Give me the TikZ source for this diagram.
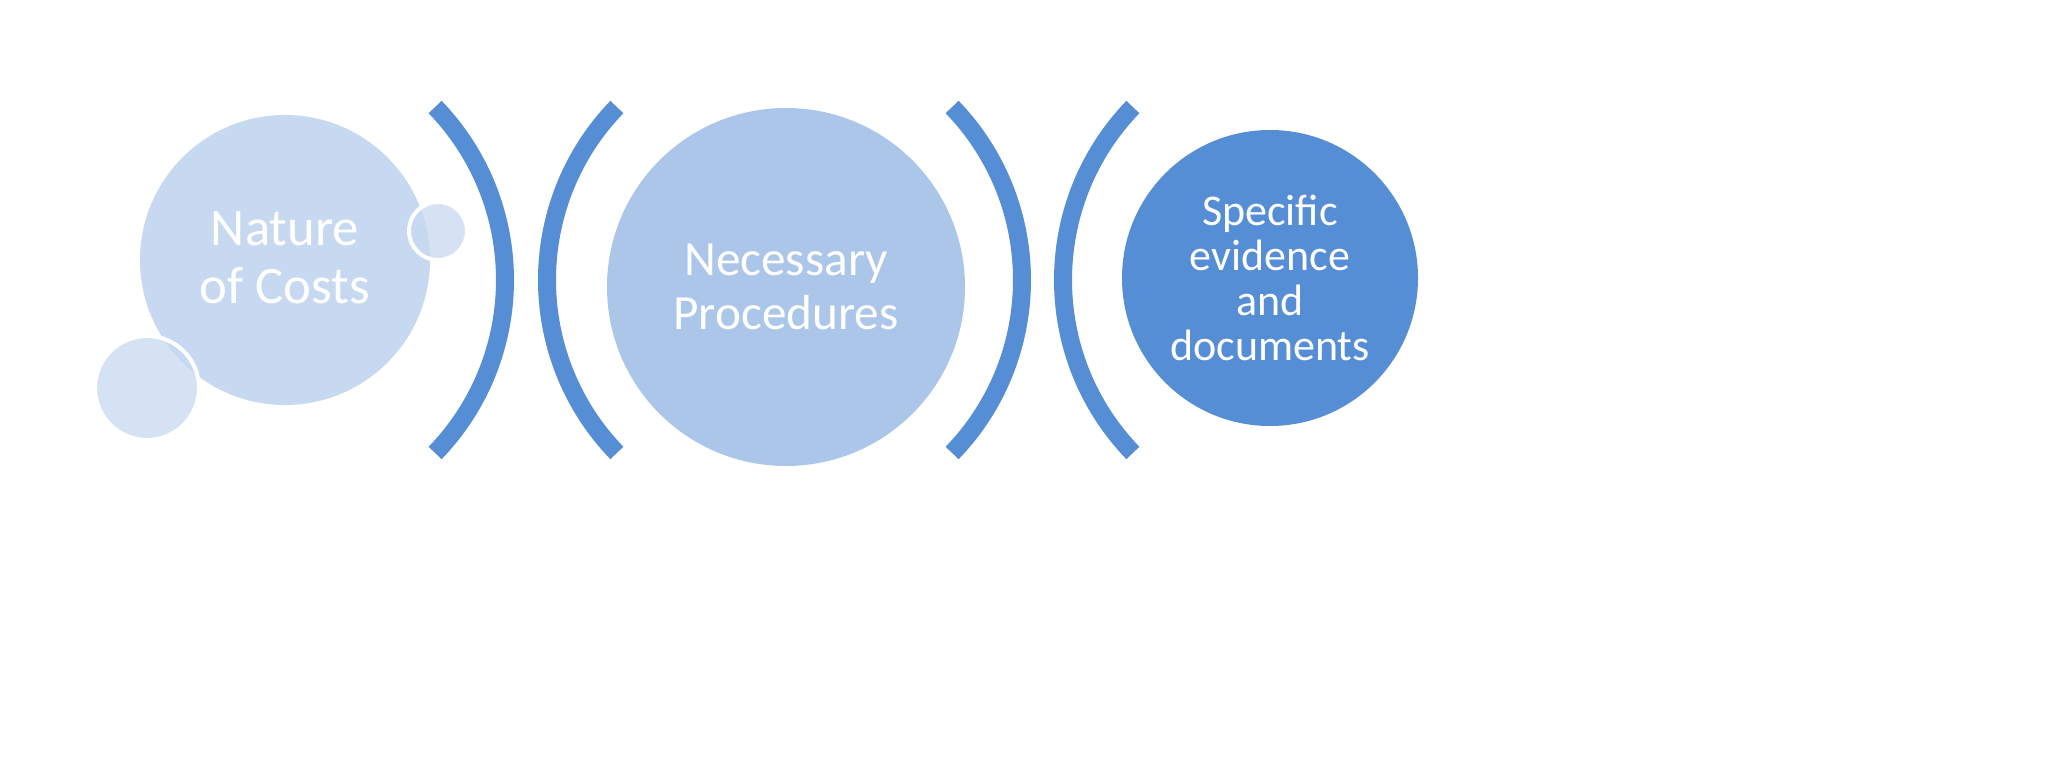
\documentclass[tikz,border=0pt]{standalone}
\usepackage{fontspec}
\setmainfont{Carlito}
\begin{document}
\begin{tikzpicture}[x=0.01cm,y=-0.01cm,
  br/.style={draw=c3,line width=18*0.01cm},
  lbl/.style={text=white,align=center}]
\definecolor{c1}{HTML}{C6D9F0}
\definecolor{c2}{HTML}{ACC6EA}
\definecolor{c3}{HTML}{558ED5}
\fill[white] (0,0) rectangle (2048,776);
\node[circle,fill=c1,minimum size=290*0.01cm,inner sep=0] (n1) at (285,260) {};
\node[circle,fill=c1,fill opacity=0.75,draw=white,draw opacity=1,line width=4*0.01cm,minimum size=104*0.01cm,inner sep=0] (s1) at (147,388) {};
\node[circle,fill=c1,fill opacity=0.75,draw=white,draw opacity=1,line width=4*0.01cm,minimum size=58*0.01cm,inner sep=0] (s2) at (438,231) {};
\node[lbl,font=\fontsize{15}{16.5}\selectfont] at (285,258) {Nature\\of Costs};
\node[circle,fill=c2,minimum size=358*0.01cm,inner sep=0] (n2) at (786,287) {};
\node[lbl,font=\fontsize{14}{15.5}\selectfont] at (786,287) {Necessary\\Procedures};
\node[circle,fill=c3,minimum size=296*0.01cm,inner sep=0] (n3) at (1270,278) {};
\node[lbl,font=\fontsize{12.5}{12.8}\selectfont] at (1270,278) {Specific\\evidence\\and\\documents};
\draw[br] (256,280) ++(-44:249) arc[start angle=-44,end angle=44,radius=249];
\draw[br] (796,280) ++(136:249) arc[start angle=136,end angle=224,radius=249];
\draw[br] (773,280) ++(-44:249) arc[start angle=-44,end angle=44,radius=249];
\draw[br] (1312,280) ++(136:249) arc[start angle=136,end angle=224,radius=249];
\pgfresetboundingbox
\useasboundingbox (0,0) rectangle (2048,776);
\end{tikzpicture}
\end{document}
